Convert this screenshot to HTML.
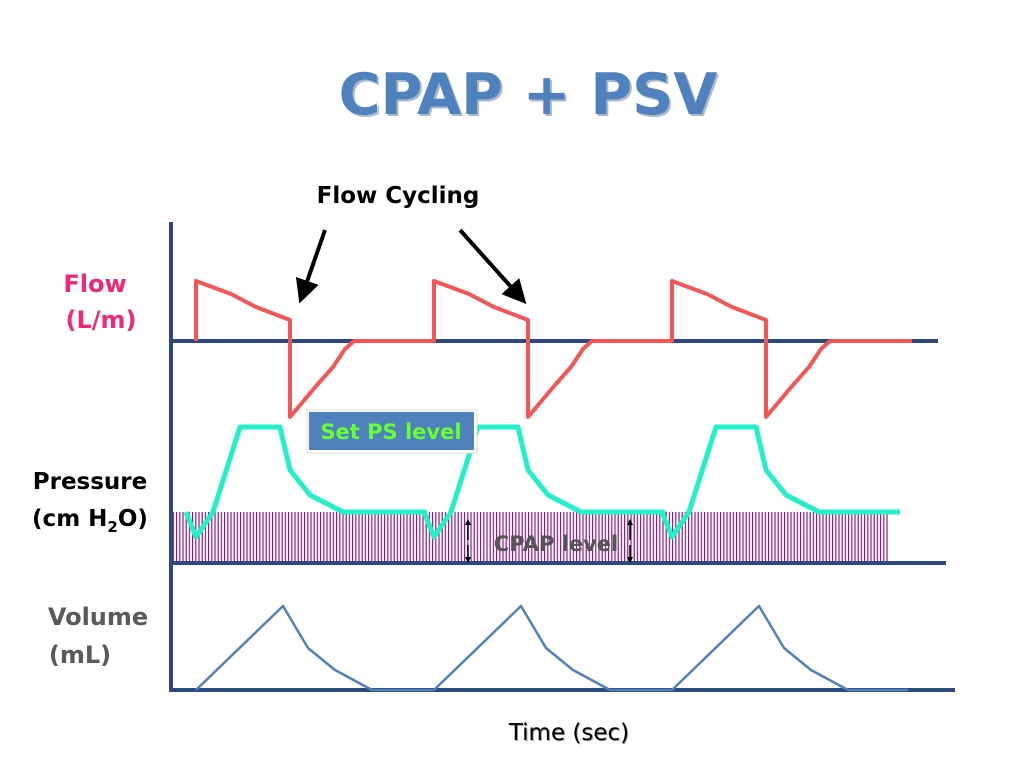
<!DOCTYPE html>
<html><head><meta charset="utf-8"><style>
body{margin:0;background:#fff;width:1024px;height:768px;overflow:hidden}
svg text{font-family:"DejaVu Sans","Liberation Sans",sans-serif;font-weight:bold}
svg text.norm{font-weight:normal}
</style></head><body>
<svg width="1024" height="768" viewBox="0 0 1024 768">
<defs>
<pattern id="hatch" width="3.2" height="10" patternUnits="userSpaceOnUse"><rect x="0" y="0" width="1.2" height="10" fill="#8a1a8a"/></pattern>
<marker id="ah" markerWidth="6" markerHeight="6" refX="4" refY="3" orient="auto"><path d="M0,0 L6,3 L0,6 Z" fill="#000"/></marker>
<marker id="sm" markerWidth="4" markerHeight="4" refX="2" refY="2" orient="auto"><path d="M0,0 L4,2 L0,4 Z" fill="#000"/></marker>
</defs>
<text x="530" y="116" text-anchor="middle" font-size="57" fill="#aab8d0">CPAP + PSV</text>
<text x="528" y="114" text-anchor="middle" font-size="57" fill="#4f81bd">CPAP + PSV</text>
<text x="398" y="203" text-anchor="middle" font-size="23" fill="#000">Flow Cycling</text>
<line x1="325" y1="230" x2="302" y2="296" stroke="#000" stroke-width="4" marker-end="url(#ah)"/>
<line x1="460" y1="230" x2="521" y2="298" stroke="#000" stroke-width="4" marker-end="url(#ah)"/>
<text x="95" y="292" text-anchor="middle" font-size="24" fill="#f0287a">Flow</text>
<text x="101" y="328" text-anchor="middle" font-size="24" fill="#f0287a">(L/m)</text>
<text x="90" y="489" text-anchor="middle" font-size="23" fill="#000">Pressure</text>
<text x="90" y="526" text-anchor="middle" font-size="23" fill="#000">(cm H<tspan font-size="15" dy="6">2</tspan><tspan dy="-6">O)</tspan></text>
<text x="98" y="625" text-anchor="middle" font-size="24" fill="#595959">Volume</text>
<text x="80" y="663" text-anchor="middle" font-size="24" fill="#595959">(mL)</text>
<text class="norm" x="570" y="741" text-anchor="middle" font-size="23" fill="#999">Time (sec)</text>
<text class="norm" x="569" y="740" text-anchor="middle" font-size="23" fill="#000">Time (sec)</text>
<rect x="173" y="512" width="715" height="50" fill="url(#hatch)"/>
<line x1="171" y1="222" x2="171" y2="692" stroke="#2b4a7e" stroke-width="4"/>
<line x1="171" y1="341" x2="938" y2="341" stroke="#2b4a7e" stroke-width="4"/>
<line x1="171" y1="563" x2="946" y2="563" stroke="#2b4a7e" stroke-width="4"/>
<line x1="171" y1="690" x2="955" y2="690" stroke="#2b4a7e" stroke-width="4"/>
<g id="plot"></g>
<rect x="307" y="410" width="170" height="43" fill="#fff" stroke="#ddd"/>
<rect x="309" y="412" width="165" height="38" fill="#4f81bd"/>
<text x="391" y="439" text-anchor="middle" font-size="21" fill="#66ff33">Set PS level</text>
<text x="556" y="551" text-anchor="middle" font-size="21" fill="#555">CPAP level</text>
<line x1="468" y1="540" x2="468" y2="522" stroke="#000" stroke-width="1.5" marker-end="url(#sm)"/>
<line x1="468" y1="545" x2="468" y2="560" stroke="#000" stroke-width="1.5" marker-end="url(#sm)"/>
<line x1="630" y1="540" x2="630" y2="522" stroke="#000" stroke-width="1.5" marker-end="url(#sm)"/>
<line x1="630" y1="545" x2="630" y2="560" stroke="#000" stroke-width="1.5" marker-end="url(#sm)"/>
</svg>
<script>
const cycleStarts = [0, 2.38, 4.76];
const flowTimes = [0, 0, 0.35, 0.6, 0.94, 0.94, 1.21, 1.37, 1.49, 1.58, 2.38];
const flowValues = [0, 60, 47, 34, 21, -76, -44, -26, -8, 0, 0];
const pressureTimes = [-0.1, 0, 0.17, 0.44, 0.84, 0.94, 1.14, 1.47, 2.29];
const pressureValues = [5.1, 2.6, 5.1, 13.6, 13.6, 9.3, 6.8, 5.1, 5.1];
const volumeTimes = [0, 0.87, 1.12, 1.39, 1.76, 2.38];
const volumeValues = [0, 420, 210, 100, 0, 0];
const flowEnd = 7.16, pressureEnd = 7.04, volumeEnd = 7.12;
const xT = t => 196 + t * 100;
const yF = v => 341 - v;
const yP = v => 563 - v * 10;
const yV = v => 690 - v * 0.2;
const g = document.getElementById('plot');
function series(times, vals, yfn, endTime) {
  const pts = [];
  cycleStarts.forEach((c, ci) => {
    const last = ci === cycleStarts.length - 1;
    times.forEach((t, i) => {
      let tt = c + t;
      if (last && i === times.length - 1) tt = endTime;
      tt = Math.min(tt, endTime);
      pts.push(xT(tt).toFixed(1) + ',' + yfn(vals[i]).toFixed(1));
    });
  });
  return pts.join(' ');
}
function line(pts, color, w, name) {
  const p = document.createElementNS('http://www.w3.org/2000/svg', 'polyline');
  p.setAttribute('points', pts);
  p.setAttribute('fill', 'none');
  p.setAttribute('stroke', color);
  p.setAttribute('stroke-width', w);
  p.setAttribute('stroke-linejoin', 'round');
  
  
  g.appendChild(p);
}
line(series(flowTimes, flowValues, yF, flowEnd), '#f65555', 4, 'flow-series');
line(series(pressureTimes, pressureValues, yP, pressureEnd), '#22f0c8', 5, 'pressure-series');
line(series(volumeTimes, volumeValues, yV, volumeEnd), '#4f81bd', 2.5, 'volume-series');
</script>
</body></html>
